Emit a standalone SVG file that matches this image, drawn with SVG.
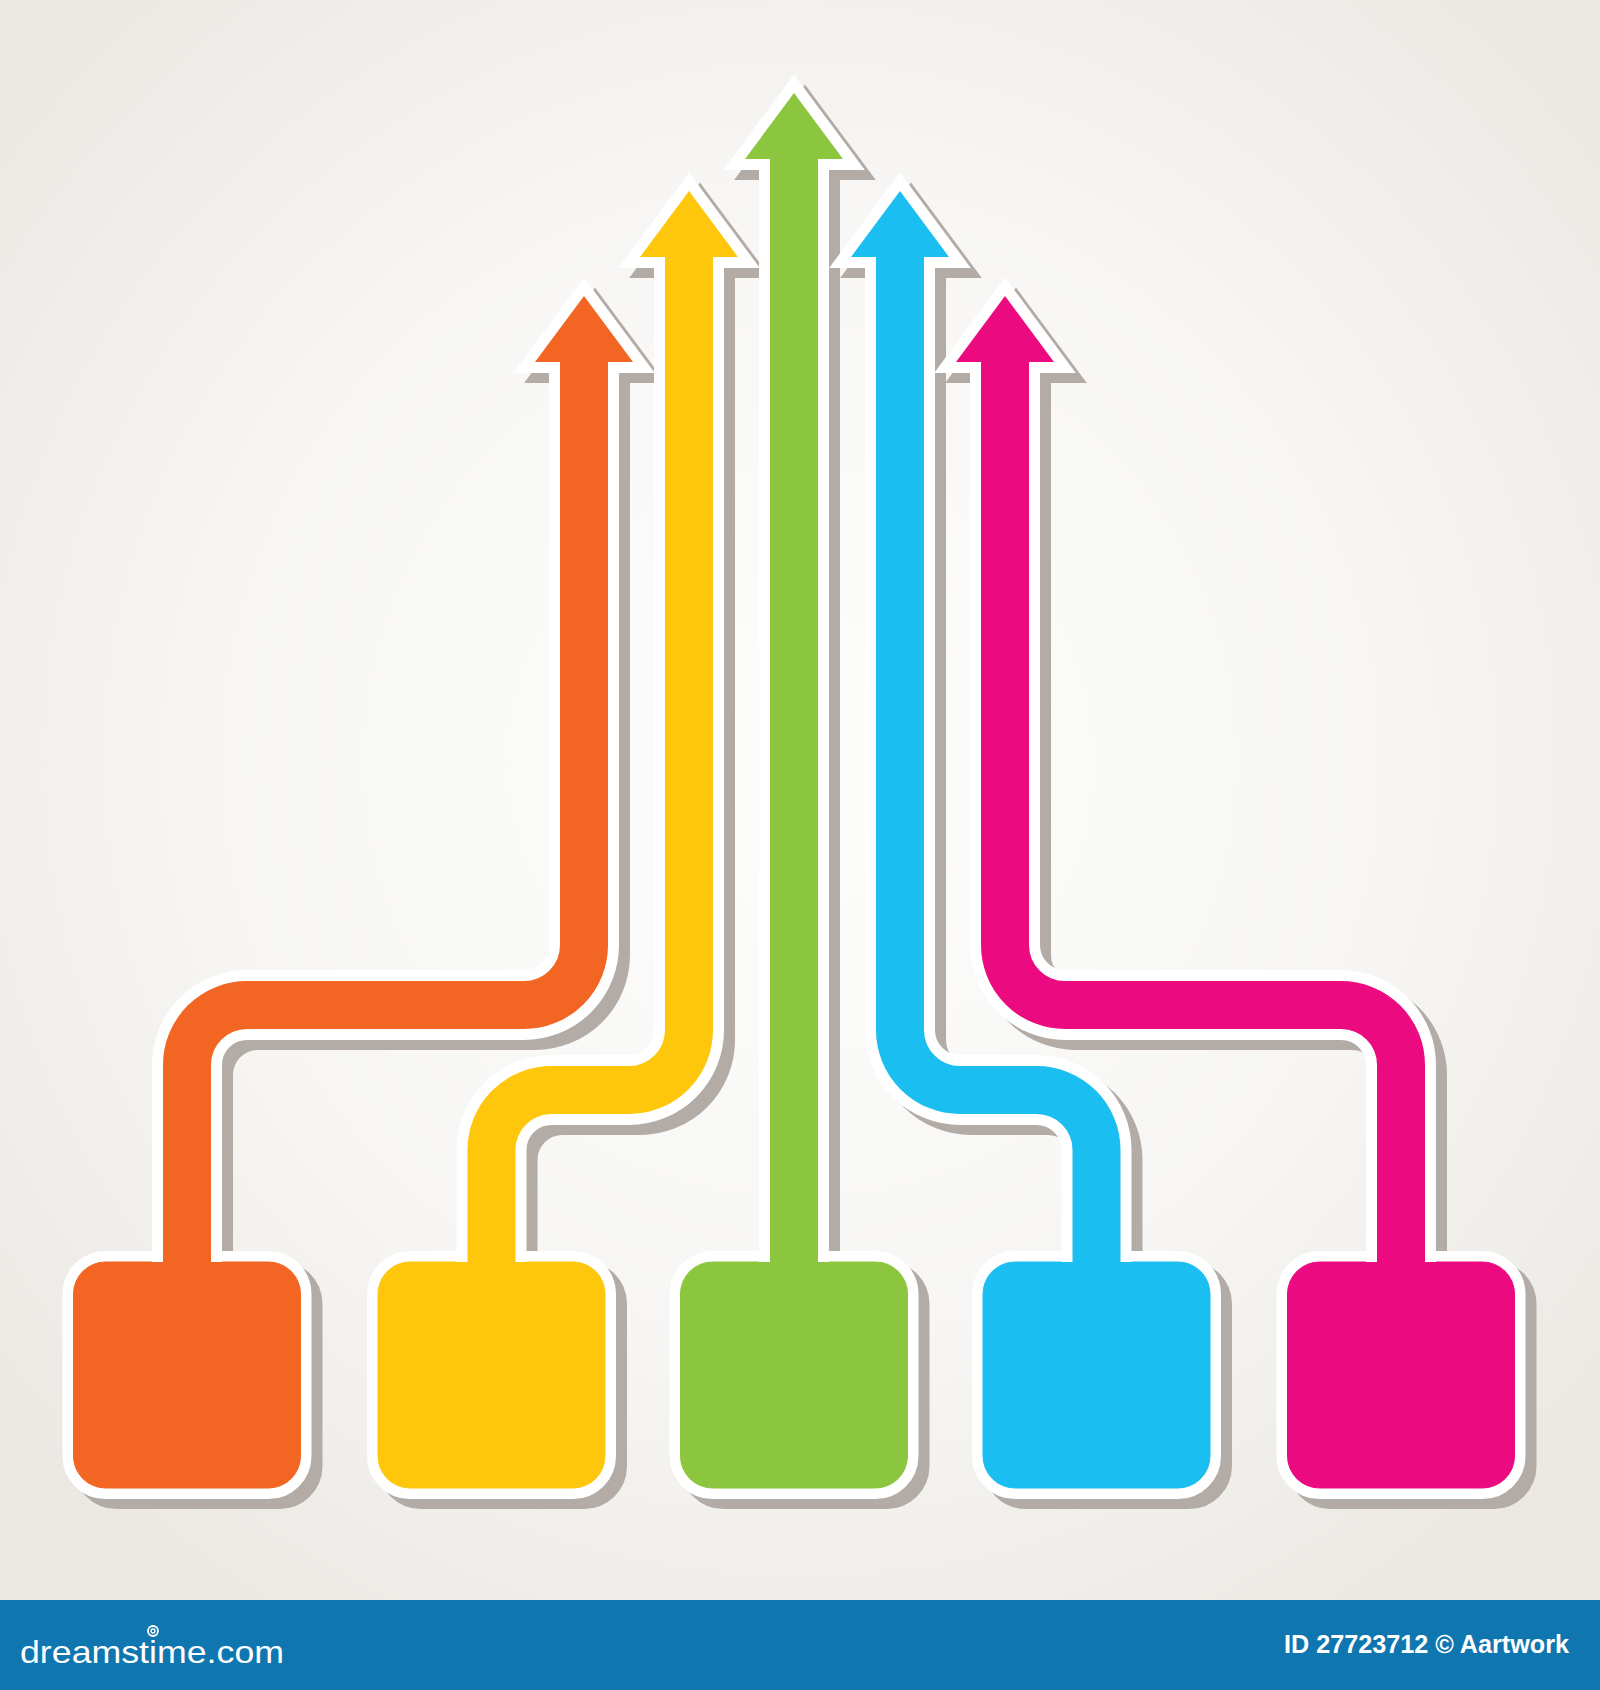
<svg xmlns="http://www.w3.org/2000/svg" xmlns:xlink="http://www.w3.org/1999/xlink" width="1600" height="1690" viewBox="0 0 1600 1690">
<style>
.sh-line{fill:none;stroke:#b3aba6;stroke-width:70}
.wh-line{fill:none;stroke:#ffffff;stroke-width:70}
.sh-shape{fill:#b3aba6;stroke:#b3aba6;stroke-width:22;stroke-linejoin:miter}
.wh-shape{fill:#ffffff;stroke:#ffffff;stroke-width:22;stroke-linejoin:miter}
.line{fill:none;stroke-width:48}
.box{stroke:none}
.orange{stroke:#f26522;fill:#f26522}
.yellow{stroke:#fec70c;fill:#fec70c}
.green{stroke:#8cc63f;fill:#8cc63f}
.blue{stroke:#1bbef0;fill:#1bbef0}
.pink{stroke:#ec0a80;fill:#ec0a80}
.line.orange,.line.yellow,.line.green,.line.blue,.line.pink{fill:none}
.head{stroke:none}
.footer-text{fill:#ffffff;font-family:"Liberation Sans","DejaVu Sans",sans-serif}
</style>
<defs>
  <radialGradient id="bg" cx="800" cy="760" r="1050" gradientUnits="userSpaceOnUse">
    <stop offset="0" stop-color="#fdfdfc"/>
    <stop offset="0.55" stop-color="#f7f6f4"/>
    <stop offset="1" stop-color="#ebe8e3"/>
  </radialGradient>
  <polygon id="head" points="0,0 49,66 -49,66"/>
  <path id="p-orange" d="M187,1262 V1065 A60,60 0 0 1 247,1005 H524 A60,60 0 0 0 584,945 V352"/>
  <path id="p-yellow" d="M491.5,1262 V1150 A60,60 0 0 1 551.5,1090 H629 A60,60 0 0 0 689,1030 V247"/>
  <path id="p-green" d="M794,1262 V149"/>
  <path id="p-blue" d="M1096.5,1262 V1150 A60,60 0 0 0 1036.5,1090 H960 A60,60 0 0 1 900,1030 V247"/>
  <path id="p-pink" d="M1401,1262 V1065 A60,60 0 0 0 1341,1005 H1065 A60,60 0 0 1 1005,945 V352"/>
  <rect id="b-shape" x="-113.5" y="0" width="227" height="226" rx="32" ry="32"/>
</defs>

<rect x="0" y="0" width="1600" height="1600" fill="url(#bg)"/>

<g id="shadows" transform="translate(11,10)">
  <use xlink:href="#p-orange" class="sh-line"/>
  <use xlink:href="#p-yellow" class="sh-line"/>
  <use xlink:href="#p-green" class="sh-line"/>
  <use xlink:href="#p-blue" class="sh-line"/>
  <use xlink:href="#p-pink" class="sh-line"/>
  <use xlink:href="#head" class="sh-shape" transform="translate(584,296)"/>
  <use xlink:href="#head" class="sh-shape" transform="translate(689,191)"/>
  <use xlink:href="#head" class="sh-shape" transform="translate(794,93)"/>
  <use xlink:href="#head" class="sh-shape" transform="translate(900,191)"/>
  <use xlink:href="#head" class="sh-shape" transform="translate(1005,296)"/>
  <use xlink:href="#b-shape" class="sh-shape" transform="translate(187,1262)"/>
  <use xlink:href="#b-shape" class="sh-shape" transform="translate(491.5,1262)"/>
  <use xlink:href="#b-shape" class="sh-shape" transform="translate(794,1262)"/>
  <use xlink:href="#b-shape" class="sh-shape" transform="translate(1096.5,1262)"/>
  <use xlink:href="#b-shape" class="sh-shape" transform="translate(1401,1262)"/>
</g>

<g id="node-orange" transform="translate(187,1262)">
  <use xlink:href="#b-shape" class="wh-shape"/>
  <use xlink:href="#b-shape" class="box orange"/>
</g>
<g id="node-yellow" transform="translate(491.5,1262)">
  <use xlink:href="#b-shape" class="wh-shape"/>
  <use xlink:href="#b-shape" class="box yellow"/>
</g>
<g id="node-green" transform="translate(794,1262)">
  <use xlink:href="#b-shape" class="wh-shape"/>
  <use xlink:href="#b-shape" class="box green"/>
</g>
<g id="node-blue" transform="translate(1096.5,1262)">
  <use xlink:href="#b-shape" class="wh-shape"/>
  <use xlink:href="#b-shape" class="box blue"/>
</g>
<g id="node-pink" transform="translate(1401,1262)">
  <use xlink:href="#b-shape" class="wh-shape"/>
  <use xlink:href="#b-shape" class="box pink"/>
</g>

<g id="connectors">
  <g id="outlines">
    <use xlink:href="#p-orange" class="wh-line"/>
    <use xlink:href="#p-yellow" class="wh-line"/>
    <use xlink:href="#p-green" class="wh-line"/>
    <use xlink:href="#p-blue" class="wh-line"/>
    <use xlink:href="#p-pink" class="wh-line"/>
    <use xlink:href="#head" class="wh-shape" transform="translate(584,296)"/>
    <use xlink:href="#head" class="wh-shape" transform="translate(689,191)"/>
    <use xlink:href="#head" class="wh-shape" transform="translate(794,93)"/>
    <use xlink:href="#head" class="wh-shape" transform="translate(900,191)"/>
    <use xlink:href="#head" class="wh-shape" transform="translate(1005,296)"/>
  </g>
  <g id="arrow-orange">
    <use xlink:href="#p-orange" class="line orange"/>
    <use xlink:href="#head" class="head orange" transform="translate(584,296)"/>
  </g>
  <g id="arrow-yellow">
    <use xlink:href="#p-yellow" class="line yellow"/>
    <use xlink:href="#head" class="head yellow" transform="translate(689,191)"/>
  </g>
  <g id="arrow-green">
    <use xlink:href="#p-green" class="line green"/>
    <use xlink:href="#head" class="head green" transform="translate(794,93)"/>
  </g>
  <g id="arrow-blue">
    <use xlink:href="#p-blue" class="line blue"/>
    <use xlink:href="#head" class="head blue" transform="translate(900,191)"/>
  </g>
  <g id="arrow-pink">
    <use xlink:href="#p-pink" class="line pink"/>
    <use xlink:href="#head" class="head pink" transform="translate(1005,296)"/>
  </g>
</g>

<g id="footer">
  <rect x="0" y="1600" width="1600" height="90" fill="#0f76b0"/>
  <text class="footer-text" x="20" y="1663" font-size="32" textLength="264" lengthAdjust="spacingAndGlyphs">dreamstime.com</text>
  <circle cx="153" cy="1631" r="5" fill="none" stroke="#ffffff" stroke-width="1.8"/>
  <circle cx="153" cy="1631" r="2" fill="none" stroke="#ffffff" stroke-width="1.4"/>
  <text class="footer-text" x="1284" y="1653" font-size="25" font-weight="bold" textLength="285" lengthAdjust="spacingAndGlyphs">ID 27723712 © Aartwork</text>
</g>
</svg>
